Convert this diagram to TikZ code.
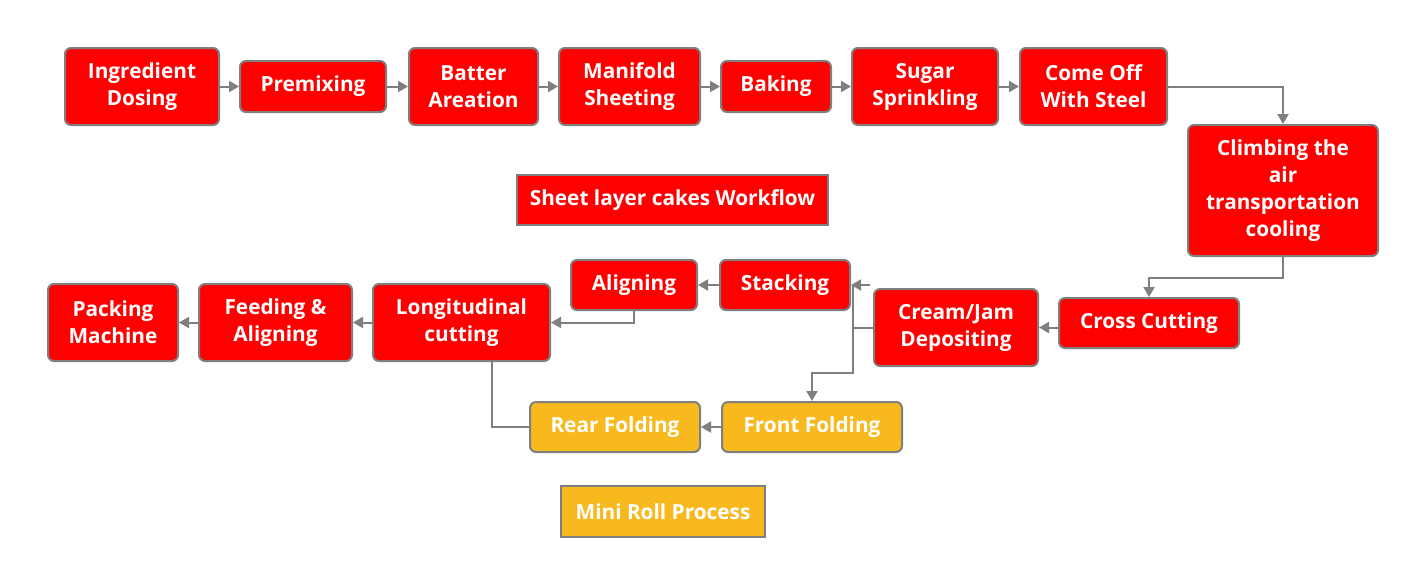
\documentclass[tikz,border=0pt]{standalone}
\usepackage{fontspec}
\setmainfont{Open Sans}
\usetikzlibrary{arrows.meta}
\definecolor{boxred}{HTML}{FF0000}
\definecolor{boxorange}{HTML}{F8B91E}
\definecolor{edgegray}{HTML}{7F7F7F}
\begin{document}
\begin{tikzpicture}[x=0.5pt,y=-0.5pt,
    stepbox/.style={draw=edgegray,line width=1pt,rounded corners=3pt,fill=boxred,
      text=white,font=\bfseries\fontsize{10.4}{13.5}\selectfont,align=center,inner sep=0pt},
    foldbox/.style={stepbox,fill=boxorange},
    titlebox/.style={stepbox,rounded corners=0pt},
    line/.style={draw=edgegray,line width=1pt},
    flow/.style={line,-{Triangle[length=5pt,width=5.5pt]}}]
  \useasboundingbox (0,0) rectangle (1427,586);
  % top row
  \node[stepbox,minimum width=77pt,minimum height=38.5pt] (ing) at (142,86.5) {Ingredient\\Dosing};
  \node[stepbox,minimum width=73pt,minimum height=25.5pt] (pre) at (313,86.5) {Premixing};
  \node[stepbox,minimum width=64.5pt,minimum height=38.5pt] (bat) at (473.5,86.5) {Batter\\Areation};
  \node[stepbox,minimum width=70.5pt,minimum height=38.5pt] (man) at (629.5,86.5) {Manifold\\Sheeting};
  \node[stepbox,minimum width=55pt,minimum height=25.5pt] (bak) at (776,86.5) {Baking};
  \node[stepbox,minimum width=73pt,minimum height=38.5pt] (sug) at (925,86.5) {Sugar\\Sprinkling};
  \node[stepbox,minimum width=73.5pt,minimum height=38.5pt] (com) at (1093.5,86.5) {Come Off\\With Steel};
  \node[stepbox,minimum width=95pt,minimum height=65.5pt] (cli) at (1283,190.5) {Climbing the\\air\\transportation\\cooling};
  % lower rows
  \node[stepbox,minimum width=90pt,minimum height=25pt] (cro) at (1149,323) {Cross Cutting};
  \node[stepbox,minimum width=82pt,minimum height=38.5pt] (cre) at (956,327.5) {Cream/Jam\\Depositing};
  \node[stepbox,minimum width=65pt,minimum height=25pt] (sta) at (785,285) {Stacking};
  \node[stepbox,minimum width=63pt,minimum height=25pt] (ali) at (634,285) {Aligning};
  \node[stepbox,minimum width=88.5pt,minimum height=38.5pt] (lon) at (461.5,322.5) {Longitudinal\\cutting};
  \node[stepbox,minimum width=76.5pt,minimum height=38.5pt] (fee) at (275.5,322.5) {Feeding \&\\Aligning};
  \node[stepbox,minimum width=65pt,minimum height=38.5pt] (pac) at (113,322.5) {Packing\\Machine};
  \node[foldbox,minimum width=90pt,minimum height=25pt] (fro) at (812,427) {Front Folding};
  \node[foldbox,minimum width=85pt,minimum height=25pt] (rea) at (615,427) {Rear Folding};
  % titles
  \node[titlebox,minimum width=155.5pt,minimum height=25pt] (sheet) at (672.5,200) {Sheet layer cakes Workflow};
  \node[titlebox,fill=boxorange,minimum width=102pt,minimum height=25.5pt] (mini) at (663,511.5) {Mini Roll Process};
  % connectors
  \foreach \a/\b in {ing/pre,pre/bat,bat/man,man/bak,bak/sug,sug/com}
    \draw[flow] (\a) -- (\b);
  \draw[flow] (com.east) -| (cli.north);
  \draw[flow] (cli.south) -- ++(0,21) -| (cro.north);
  \draw[flow] (cro.west |- cre.east) -- (cre.east);
  \coordinate (split) at (853,327.5);
  \coordinate (stub) at (870,285);
  \draw[line] (cre.west) -- (split) -- (split |- stub);
  \draw[flow] (stub) -- (sta.east);
  \draw[flow] (split) -- ++(0,45) -| (fro.north);
  \draw[flow] (sta) -- (ali);
  \draw[flow] (ali.south) |- (lon.east);
  \draw[flow] (lon) -- (fee);
  \draw[flow] (fee) -- (pac);
  \draw[flow] (fro) -- (rea);
  \draw[line] (rea.west) -| ([xshift=15.25pt]lon.south);
\end{tikzpicture}
\end{document}
